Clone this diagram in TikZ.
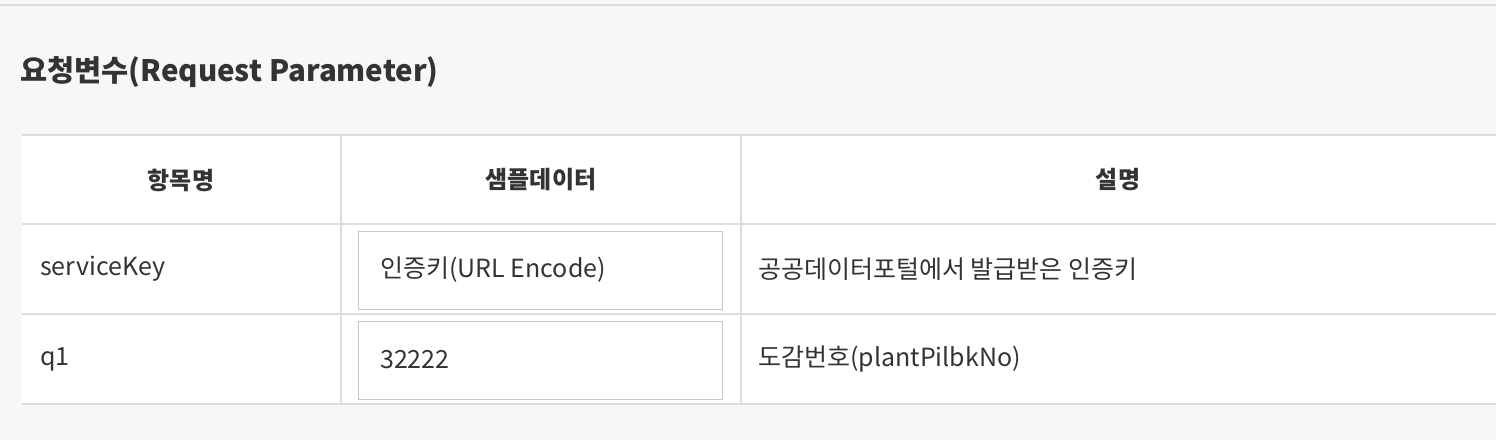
\documentclass[tikz,border=0pt]{standalone}
\usepackage{fontspec}
\setmainfont{Noto Sans CJK KR}
\definecolor{bg}{HTML}{F7F7F7}
\definecolor{ln}{HTML}{DDDDDD}
\definecolor{bx}{HTML}{C8C8C8}
\definecolor{tx}{HTML}{333333}
\begin{document}
\begin{tikzpicture}[x=1pt,y=-1pt,
  cell/.style={anchor=west,text=tx,font=\fontsize{25}{28}\selectfont,inner sep=0pt},
  head/.style={text=tx,font=\fontsize{24}{28}\selectfont\bfseries,inner sep=0pt},
  inbox/.style={draw=bx,line width=1.2pt,fill=white}]
\useasboundingbox (0,0) rectangle (1496,440);
\fill[bg] (0,0) rectangle (1496,440);
\draw[ln,line width=2pt] (0,5) -- (1496,5);
\node[anchor=west,text=tx,inner sep=0pt,font=\fontsize{29.5}{33}\selectfont\bfseries] (title) at (20,72) {요청변수(Request Parameter)};
\fill[white] (22,135) rectangle (1496,404);
\draw[ln,line width=2pt] (22,135) -- (1496,135) (22,224) -- (1496,224) (22,314) -- (1496,314) (22,404) -- (1496,404);
\draw[ln,line width=2pt] (341,135) -- (341,404) (741,135) -- (741,404);
\node[head] (h1) at (181,180) {항목명};
\node[head] (h2) at (541,180) {샘플데이터};
\node[head] (h3) at (1118,180) {설명};
\node[inbox,minimum width=364,minimum height=78,anchor=north west] (b1) at (358,231) {};
\node[inbox,minimum width=364,minimum height=78,anchor=north west] (b2) at (358,321) {};
\node[cell] (r1a) at (40,269) {serviceKey};
\node[cell] (r1b) at (380,270) {인증키(URL Encode)};
\node[cell] (r1c) at (758,269) {공공데이터포털에서 발급받은 인증키};
\node[cell] (r2a) at (40,359) {q1};
\node[cell] (r2b) at (380,360) {32222};
\node[cell] (r2c) at (758,359) {도감번호(plantPilbkNo)};
\end{tikzpicture}
\end{document}
